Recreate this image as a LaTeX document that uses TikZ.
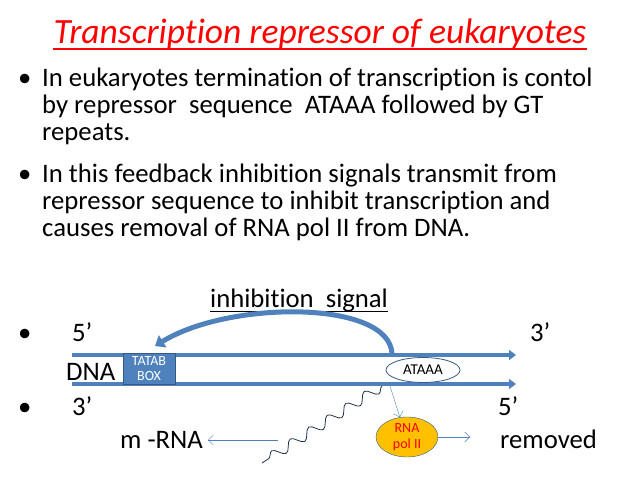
\documentclass[tikz,border=0pt]{standalone}
\usepackage{fontspec}
\setmainfont{Carlito}[Ligatures=NoCommon]
\usetikzlibrary{arrows.meta,decorations.pathmorphing,shapes.geometric}
\definecolor{strand}{RGB}{79,129,189}
\definecolor{polfill}{RGB}{255,192,0}
\tikzset{
  txt/.style={anchor=base west, inner sep=0pt, font=\fontsize{26.7}{30}\selectfont},
  strand/.style={draw=strand, line width=4pt, -{Triangle[length=7pt,width=10pt]}},
  thin arrow/.style={draw=strand, thin, -{Straight Barb[length=5pt]}}
}
\begin{document}
\begin{tikzpicture}[x=1pt, y=-1pt]
	\useasboundingbox (0,0) rectangle (638,478);
	% title
	\node[anchor=base, inner sep=0pt, text=red, font=\fontsize{35.5}{40}\selectfont\itshape] (title) at (320,44) {Transcription repressor of eukaryotes};
	\draw[red, line width=1.5pt] ([yshift=-5pt]title.base west) -- ([yshift=-5pt]title.base east);
	% bullets
	\node[txt] (b1) at (18,87) {\textbullet};
	\node[txt] (l1) at (42,87) {In eukaryotes termination of transcription is contol};
	\node[txt] (l2) at (42,114) {by repressor\ \ sequence\ \ ATAAA followed by GT};
	\node[txt] (l3) at (42,141) {repeats.};
	\node[txt] (b2) at (18,183) {\textbullet};
	\node[txt] (l4) at (42,183) {In this feedback inhibition signals transmit from};
	\node[txt] (l5) at (42,210) {repressor sequence to inhibit transcription and};
	\node[txt] (l6) at (42,237) {causes removal of RNA pol II from DNA.};
	\node[txt] (sig) at (210,308) {inhibition\ \ signal};
	\draw[thick] ([yshift=-3pt]sig.base west) -- ([yshift=-3pt]sig.base east);
	\node[txt] (b3) at (18,342) {\textbullet};
	\node[txt] (p5a) at (72,342) {5’};
	\node[txt] (p3a) at (530,342) {3’};
	\node[txt] (dna) at (66,381) {DNA};
	\node[txt] (b4) at (18,416) {\textbullet};
	\node[txt] (p3b) at (72,416) {3’};
	\node[txt] (p5b) at (498,416) {5’};
	\node[txt] (mrna) at (120,449) {m -RNA};
	\node[txt] (rem) at (500,449) {removed};
	% DNA strands
	\coordinate (t0) at (72,355);
	\coordinate (t1) at (516,355);
	\coordinate (u0) at (72,384);
	\coordinate (u1) at (516,384);
	\draw[strand] (t0) -- (t1);
	\draw[strand] (u0) -- (u1);
	\node[draw=strand!70!black, fill=strand, text=white, minimum width=52pt, minimum height=31pt,
	      align=center, inner sep=0pt, font=\fontsize{14}{15}\selectfont] (box) at (149,369) {TATAB\\BOX};
	\node[draw=strand!70!black, thick, fill=white, ellipse, minimum width=74pt, minimum height=25pt,
	      inner sep=0pt, font=\fontsize{15}{15}\selectfont] (rep) at (423,370) {ATAAA};
	\node[draw=strand!70!black, fill=polfill, ellipse, minimum width=62pt, minimum height=40pt,
	      inner sep=0pt, align=center, text=red, font=\fontsize{14}{16}\selectfont] (pol) at (407,437) {RNA\\pol II};
	% inhibition signal
	\coordinate (s0) at (392,354);
	\coordinate (s1) at (155,346);
	\draw[strand, line width=5pt, -{Triangle[length=9pt,width=14pt]}] (s0) .. controls (390,300) and (230,300) .. (s1);
	% transcript and arrows
	\coordinate (w0) at (382,386);
	\coordinate (w1) at (262,463);
	\draw[strand!40!black, thick, decorate, decoration={snake, amplitude=5pt, segment length=22pt}] (w0) -- (w1);
	\coordinate (m0) at (278,440);
	\coordinate (m1) at (208,440);
	\draw[thin arrow] (m0) -- (m1);
	\coordinate (p0) at (390,386);
	\draw[thin arrow] (p0) -- (pol.110);
	\coordinate (r1) at (470,437);
	\draw[thin arrow] (pol.east) -- (r1);
\end{tikzpicture}
\end{document}
